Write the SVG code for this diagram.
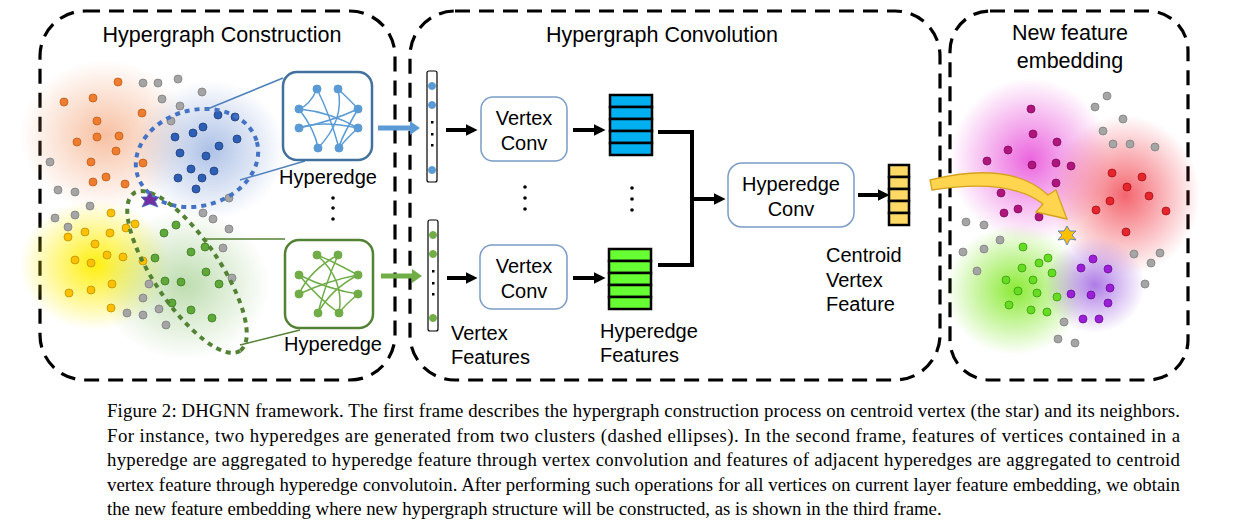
<svg xmlns="http://www.w3.org/2000/svg" width="1240" height="530" viewBox="0 0 1240 530">
<defs>
<style>
.frame{fill:none;stroke:#000;stroke-width:3.2;stroke-dasharray:15 9}
.t{font-family:"Liberation Sans",Arial,sans-serif;fill:#000}
.tt{font-family:"Liberation Sans",Arial,sans-serif;fill:#000;font-size:21.5px}
.cap{font-family:"Liberation Serif","Times New Roman",serif;font-size:18.8px;fill:#000}
.box{fill:#fff;stroke:#7a9cc6;stroke-width:1.5}
.ar{stroke:#000;stroke-width:4;fill:none;marker-end:url(#ah)}
.o{fill:#ed7d31;stroke:#c55a11;stroke-width:.8}
.g{fill:#a5a5a5;stroke:#7f7f7f;stroke-width:.8}
.b{fill:#2e5fb7;stroke:#1f3f7a;stroke-width:.8}
.y{fill:#ffc000;stroke:#c09000;stroke-width:.8}
.gr{fill:#5fa83a;stroke:#3e7a22;stroke-width:.8}
.m{fill:#b0157e;stroke:#800c5c;stroke-width:.8}
.r{fill:#e6262d;stroke:#a80f15;stroke-width:.8}
.lg{fill:#66dd22;stroke:#3a9a10;stroke-width:.8}
.p{fill:#9b1fd6;stroke:#6a0f9a;stroke-width:.8}
.bn{fill:#5b9bd5;stroke:#5b9bd5}
.gn{fill:#70ad47;stroke:#70ad47}
</style>
<marker id="ah" viewBox="0 0 10 10" refX="2" refY="5" markerWidth="3" markerHeight="3" orient="auto"><path d="M0,0L10,5L0,10z" fill="#000"/></marker>
<radialGradient id="go"><stop offset="0" stop-color="#f4a57a" stop-opacity=".7"/><stop offset="1" stop-color="#f4a57a" stop-opacity="0"/></radialGradient>
<radialGradient id="gy"><stop offset="0" stop-color="#ffee00" stop-opacity=".95"/><stop offset="1" stop-color="#ffee00" stop-opacity="0"/></radialGradient>
<radialGradient id="gb"><stop offset="0" stop-color="#8aa7dc" stop-opacity=".7"/><stop offset="1" stop-color="#8aa7dc" stop-opacity="0"/></radialGradient>
<radialGradient id="gg"><stop offset="0" stop-color="#92c67a" stop-opacity=".6"/><stop offset="1" stop-color="#92c67a" stop-opacity="0"/></radialGradient>
<radialGradient id="gm"><stop offset="0" stop-color="#e84ad8" stop-opacity=".85"/><stop offset="1" stop-color="#e84ad8" stop-opacity="0"/></radialGradient>
<radialGradient id="gr"><stop offset="0" stop-color="#f24a55" stop-opacity=".85"/><stop offset="1" stop-color="#f24a55" stop-opacity="0"/></radialGradient>
<radialGradient id="glg"><stop offset="0" stop-color="#7ee81f" stop-opacity=".9"/><stop offset="1" stop-color="#7ee81f" stop-opacity="0"/></radialGradient>
<radialGradient id="gp"><stop offset="0" stop-color="#9a5be0" stop-opacity=".8"/><stop offset="1" stop-color="#9a5be0" stop-opacity="0"/></radialGradient>
</defs>
<rect width="1240" height="530" fill="#fff"/>

<g id="frame1">
<rect class="frame" x="40" y="11" width="355" height="369" rx="45"/>
<text class="tt" x="222" y="42" text-anchor="middle">Hypergraph Construction</text>
<ellipse cx="105" cy="135" rx="85" ry="75" fill="url(#go)"/>
<ellipse cx="95" cy="265" rx="75" ry="65" fill="url(#gy)"/>
<ellipse cx="210" cy="150" rx="75" ry="70" fill="url(#gb)"/>
<ellipse cx="185" cy="285" rx="85" ry="75" fill="url(#gg)"/>
<g>
<circle class="o" cx="118" cy="82" r="4"/><circle class="o" cx="64" cy="102" r="4"/><circle class="o" cx="93" cy="98" r="4"/><circle class="o" cx="142" cy="113" r="4"/><circle class="o" cx="97" cy="121" r="4"/><circle class="o" cx="77" cy="142" r="4"/><circle class="o" cx="97" cy="137" r="4"/><circle class="o" cx="119" cy="136" r="4"/><circle class="o" cx="116" cy="151" r="4"/><circle class="o" cx="91" cy="162" r="4"/><circle class="o" cx="106" cy="177" r="4"/><circle class="o" cx="93" cy="182" r="4"/><circle class="o" cx="125" cy="184" r="4"/><circle class="o" cx="143" cy="163" r="4"/>
<circle class="g" cx="143" cy="83" r="4"/><circle class="g" cx="158" cy="83" r="4"/><circle class="g" cx="178" cy="79" r="4"/><circle class="g" cx="202" cy="92" r="4"/><circle class="g" cx="162" cy="99" r="4"/><circle class="g" cx="180" cy="106" r="4"/><circle class="g" cx="50" cy="162" r="4"/><circle class="g" cx="58" cy="190" r="4"/><circle class="g" cx="75" cy="192" r="4"/><circle class="g" cx="90" cy="206" r="4"/><circle class="g" cx="55" cy="218" r="4"/><circle class="g" cx="75" cy="215" r="4"/><circle class="g" cx="68" cy="227" r="4"/><circle class="g" cx="229" cy="198" r="4"/><circle class="g" cx="203" cy="213" r="4"/><circle class="g" cx="213" cy="219" r="4"/><circle class="g" cx="229" cy="229" r="4"/><circle class="g" cx="223" cy="248" r="4"/><circle class="g" cx="232" cy="278" r="4"/><circle class="g" cx="149" cy="284" r="4"/><circle class="g" cx="143" cy="298" r="4"/><circle class="g" cx="127" cy="313" r="4"/><circle class="g" cx="143" cy="315" r="4"/><circle class="g" cx="159" cy="309" r="4"/><circle class="g" cx="166" cy="325" r="4"/><circle class="g" cx="171" cy="121" r="4"/>
<circle class="b" cx="218" cy="115" r="4"/><circle class="b" cx="235" cy="117" r="4"/><circle class="b" cx="203" cy="127" r="4"/><circle class="b" cx="193" cy="133" r="4"/><circle class="b" cx="175" cy="137" r="4"/><circle class="b" cx="237" cy="139" r="4"/><circle class="b" cx="180" cy="153" r="4"/><circle class="b" cx="206" cy="156" r="4"/><circle class="b" cx="219" cy="146" r="4"/><circle class="b" cx="191" cy="169" r="4"/><circle class="b" cx="214" cy="171" r="4"/><circle class="b" cx="202" cy="178" r="4"/><circle class="b" cx="178" cy="178" r="4"/><circle class="b" cx="196" cy="189" r="4"/>
<circle class="y" cx="111" cy="213" r="4"/><circle class="y" cx="85" cy="232" r="4"/><circle class="y" cx="110" cy="233" r="4"/><circle class="y" cx="135" cy="224" r="4"/><circle class="y" cx="126" cy="228" r="4"/><circle class="y" cx="95" cy="244" r="4"/><circle class="y" cx="68" cy="237" r="4"/><circle class="y" cx="107" cy="255" r="4"/><circle class="y" cx="123" cy="257" r="4"/><circle class="y" cx="75" cy="260" r="4"/><circle class="y" cx="91" cy="263" r="4"/><circle class="y" cx="143" cy="261" r="4"/><circle class="y" cx="112" cy="284" r="4"/><circle class="y" cx="91" cy="290" r="4"/><circle class="y" cx="69" cy="293" r="4"/><circle class="y" cx="111" cy="308" r="4"/>
<circle class="gr" cx="176" cy="225" r="4"/><circle class="gr" cx="164" cy="233" r="4"/><circle class="gr" cx="205" cy="247" r="4"/><circle class="gr" cx="191" cy="252" r="4"/><circle class="gr" cx="155" cy="258" r="4"/><circle class="gr" cx="206" cy="272" r="4"/><circle class="gr" cx="165" cy="281" r="4"/><circle class="gr" cx="181" cy="282" r="4"/><circle class="gr" cx="219" cy="284" r="4"/><circle class="gr" cx="172" cy="303" r="4"/><circle class="gr" cx="191" cy="310" r="4"/><circle class="gr" cx="212" cy="318" r="4"/>
</g>
<ellipse cx="197" cy="158" rx="62" ry="48" transform="rotate(-15 197 158)" fill="none" stroke="#4472c4" stroke-width="4" stroke-dasharray="5 5"/>
<ellipse cx="187" cy="272" rx="95" ry="33" transform="rotate(56 187 272)" fill="none" stroke="#548235" stroke-width="4" stroke-dasharray="5 5"/>
<polygon points="150,191 153,197 159,197 155,201 158,207 150,204 142,207 145,201 141,197 147,197" fill="#7030a0" stroke="#4472c4" stroke-width=".8"/>
</g>

<g id="hyperedge-top">
<line x1="283" y1="78" x2="205" y2="110" stroke="#4f81bd" stroke-width="1.5"/>
<line x1="305" y1="161" x2="240" y2="180" stroke="#4f81bd" stroke-width="1.5"/>
<rect x="283" y="72" width="89" height="88" rx="14" fill="#fff" stroke="#41719c" stroke-width="2.5"/>
<g fill="none" stroke="#5b9bd5" stroke-width="1.5">
<path d="M317,89 Q310,105 299,109"/><path d="M338,89 Q345,120 318,148"/><path d="M317,89 Q330,115 339,148"/><path d="M338,89 Q350,100 358,109"/><path d="M299,109 Q330,112 358,128"/><path d="M299,109 Q315,130 318,148"/><path d="M358,109 Q330,122 299,128"/><path d="M358,109 Q340,140 339,148"/><path d="M299,128 Q320,120 358,128"/><path d="M358,128 Q345,140 339,148"/>
</g>
<g class="bn"><circle cx="317" cy="89" r="4"/><circle cx="338" cy="89" r="4"/><circle cx="299" cy="109" r="4"/><circle cx="358" cy="109" r="4"/><circle cx="299" cy="128" r="4"/><circle cx="358" cy="128" r="4"/><circle cx="318" cy="148" r="4"/><circle cx="339" cy="148" r="4"/></g>
<text class="t" x="328" y="184" font-size="20" text-anchor="middle">Hyperedge</text>
</g>
<g id="vdots1" fill="#000"><circle cx="333" cy="198" r="1.8"/><circle cx="333" cy="208" r="1.8"/><circle cx="333" cy="219" r="1.8"/></g>
<g id="hyperedge-bottom">
<line x1="285" y1="239" x2="205" y2="239" stroke="#548235" stroke-width="1.5"/>
<line x1="300" y1="330" x2="240" y2="345" stroke="#548235" stroke-width="1.5"/>
<rect x="285" y="240" width="88" height="88" rx="14" fill="#fff" stroke="#548235" stroke-width="2.5"/>
<g fill="none" stroke="#70ad47" stroke-width="1.5">
<path d="M317,255 Q330,260 358,275"/><path d="M338,255 Q325,285 318,313"/><path d="M317,255 Q345,280 339,313"/><path d="M338,255 Q310,270 299,294"/><path d="M299,275 Q330,290 358,294"/><path d="M299,275 Q320,300 339,313"/><path d="M358,275 Q330,290 318,313"/><path d="M299,294 Q330,280 358,275"/><path d="M358,294 Q345,305 339,313"/>
</g>
<g class="gn"><circle cx="317" cy="255" r="4"/><circle cx="338" cy="255" r="4"/><circle cx="299" cy="275" r="4"/><circle cx="358" cy="275" r="4"/><circle cx="299" cy="294" r="4"/><circle cx="358" cy="294" r="4"/><circle cx="318" cy="313" r="4"/><circle cx="339" cy="313" r="4"/></g>
<text class="t" x="333" y="351" font-size="20" text-anchor="middle">Hyperedge</text>
</g>

<g id="frame2">
<rect class="frame" x="410" y="11" width="530" height="369" rx="45"/>
<text class="tt" x="662" y="42" text-anchor="middle">Hypergraph Convolution</text>
</g>
<g id="vec-top">
<rect x="427" y="71" width="10" height="111" rx="2" fill="#fff" stroke="#000" stroke-width="1.2"/>
<circle class="bn" cx="432" cy="86" r="3.5"/><circle class="bn" cx="432" cy="105" r="3.5"/><circle class="bn" cx="432" cy="170" r="3.5"/>
<rect x="431" y="121" width="2.5" height="2.5"/><rect x="431" y="133" width="2.5" height="2.5"/><rect x="431" y="144" width="2.5" height="2.5"/>
</g>
<g id="vec-bottom">
<rect x="428" y="220" width="10" height="111" rx="2" fill="#fff" stroke="#000" stroke-width="1.2"/>
<circle class="gn" cx="433" cy="235" r="3.5"/><circle class="gn" cx="433" cy="254" r="3.5"/><circle class="gn" cx="433" cy="318" r="3.5"/>
<rect x="432" y="270" width="2.5" height="2.5"/><rect x="432" y="282" width="2.5" height="2.5"/><rect x="432" y="293" width="2.5" height="2.5"/>
</g>
<g id="vconv-top"><rect class="box" x="481" y="97" width="86" height="64" rx="12"/><text class="t" x="524" y="125" font-size="20" text-anchor="middle">Vertex</text><text class="t" x="524" y="150" font-size="20" text-anchor="middle">Conv</text></g>
<g id="vconv-bottom"><rect class="box" x="480" y="245" width="87" height="64" rx="12"/><text class="t" x="524" y="273" font-size="20" text-anchor="middle">Vertex</text><text class="t" x="524" y="298" font-size="20" text-anchor="middle">Conv</text></g>
<g id="hfeat-top" stroke="#000" stroke-width="2.5" fill="#00b0f0">
<rect x="610" y="95" width="42" height="12"/><rect x="610" y="107" width="42" height="12"/><rect x="610" y="119" width="42" height="12"/><rect x="610" y="131" width="42" height="12"/><rect x="610" y="143" width="42" height="12"/>
</g>
<g id="hfeat-bottom" stroke="#000" stroke-width="2.5" fill="#66ff33">
<rect x="609" y="249" width="42" height="12"/><rect x="609" y="261" width="42" height="12"/><rect x="609" y="273" width="42" height="12"/><rect x="609" y="285" width="42" height="12"/><rect x="609" y="297" width="42" height="12"/>
</g>
<g id="vdots2" fill="#000"><circle cx="525" cy="187" r="1.8"/><circle cx="525" cy="198" r="1.8"/><circle cx="525" cy="209" r="1.8"/><circle cx="632" cy="188" r="1.8"/><circle cx="632" cy="199" r="1.8"/><circle cx="632" cy="210" r="1.8"/></g>
<g id="hconv"><rect class="box" x="728" y="163" width="126" height="64" rx="14"/><text class="t" x="791" y="191" font-size="20" text-anchor="middle">Hyperedge</text><text class="t" x="791" y="216" font-size="20" text-anchor="middle">Conv</text></g>
<g id="centroid" stroke="#000" stroke-width="2.5" fill="#ffd966">
<rect x="889" y="165" width="20" height="12"/><rect x="889" y="177" width="20" height="12"/><rect x="889" y="189" width="20" height="12"/><rect x="889" y="201" width="20" height="12"/><rect x="889" y="213" width="20" height="12"/>
</g>
<g id="labels2" class="t" font-size="20">
<text x="451" y="340">Vertex</text><text x="451" y="364">Features</text>
<text x="600" y="338">Hyperedge</text><text x="600" y="362">Features</text>
<text x="826" y="262">Centroid</text><text x="826" y="287">Vertex</text><text x="826" y="311">Feature</text>
</g>

<g id="frame3">
<rect class="frame" x="950" y="11" width="238" height="369" rx="40"/>
<text class="tt" x="1070" y="40" text-anchor="middle">New feature</text>
<text class="tt" x="1070" y="68" text-anchor="middle">embedding</text>
<ellipse cx="1030" cy="160" rx="80" ry="82" fill="url(#gm)"/>
<ellipse cx="1125" cy="195" rx="75" ry="80" fill="url(#gr)"/>
<ellipse cx="1015" cy="290" rx="70" ry="65" fill="url(#glg)"/>
<ellipse cx="1095" cy="285" rx="50" ry="48" fill="url(#gp)"/>
<circle class="m" cx="1031" cy="109" r="4"/><circle class="m" cx="1033" cy="134" r="4"/><circle class="m" cx="1057" cy="142" r="4"/><circle class="m" cx="1008" cy="150" r="4"/><circle class="m" cx="987" cy="161" r="4"/><circle class="m" cx="1032" cy="165" r="4"/><circle class="m" cx="1056" cy="163" r="4"/><circle class="m" cx="1071" cy="166" r="4"/><circle class="m" cx="1056" cy="183" r="4"/><circle class="m" cx="1001" cy="193" r="4"/><circle class="m" cx="1018" cy="209" r="4"/><circle class="m" cx="1004" cy="213" r="4"/><circle class="m" cx="1039" cy="217" r="4"/>
<circle class="g" cx="1107" cy="96" r="4"/><circle class="g" cx="1095" cy="107" r="4"/><circle class="g" cx="1123" cy="119" r="4"/><circle class="g" cx="1103" cy="131" r="4"/><circle class="g" cx="1113" cy="144" r="4"/><circle class="g" cx="1130" cy="144" r="4"/><circle class="g" cx="1155" cy="147" r="4"/><circle class="g" cx="966" cy="222" r="4"/><circle class="g" cx="984" cy="225" r="4"/><circle class="g" cx="1000" cy="240" r="4"/><circle class="g" cx="963" cy="252" r="4"/><circle class="g" cx="984" cy="249" r="4"/><circle class="g" cx="977" cy="271" r="4"/><circle class="g" cx="1134" cy="254" r="4"/><circle class="g" cx="1160" cy="253" r="4"/><circle class="g" cx="1151" cy="263" r="4"/><circle class="g" cx="1145" cy="284" r="4"/><circle class="g" cx="1064" cy="322" r="4"/><circle class="g" cx="1058" cy="339" r="4"/><circle class="g" cx="1075" cy="343" r="4"/>
<circle class="r" cx="1112" cy="173" r="4"/><circle class="r" cx="1142" cy="177" r="4"/><circle class="r" cx="1127" cy="187" r="4"/><circle class="r" cx="1149" cy="196" r="4"/><circle class="r" cx="1110" cy="201" r="4"/><circle class="r" cx="1096" cy="210" r="4"/><circle class="r" cx="1166" cy="211" r="4"/><circle class="r" cx="1126" cy="232" r="4"/>
<circle class="lg" cx="1023" cy="247" r="4"/><circle class="lg" cx="1048" cy="258" r="4"/><circle class="lg" cx="1039" cy="263" r="4"/><circle class="lg" cx="1022" cy="268" r="4"/><circle class="lg" cx="1052" cy="273" r="4"/><circle class="lg" cx="1006" cy="280" r="4"/><circle class="lg" cx="1033" cy="280" r="4"/><circle class="lg" cx="1018" cy="291" r="4"/><circle class="lg" cx="1037" cy="293" r="4"/><circle class="lg" cx="1057" cy="297" r="4"/><circle class="lg" cx="1009" cy="305" r="4"/><circle class="lg" cx="1031" cy="310" r="4"/><circle class="lg" cx="1047" cy="312" r="4"/>
<circle class="p" cx="1093" cy="259" r="4"/><circle class="p" cx="1081" cy="268" r="4"/><circle class="p" cx="1108" cy="269" r="4"/><circle class="p" cx="1110" cy="288" r="4"/><circle class="p" cx="1071" cy="294" r="4"/><circle class="p" cx="1091" cy="295" r="4"/><circle class="p" cx="1108" cy="303" r="4"/><circle class="p" cx="1083" cy="319" r="4"/><circle class="p" cx="1099" cy="319" r="4"/>
<polygon points="1067,226 1070,231 1076,231 1072,235 1076,240 1070,239 1067,245 1064,239 1058,240 1062,235 1058,231 1064,231" fill="#ffc000" stroke="#4472c4" stroke-width=".8"/>
</g>

<g id="connectors">
<path d="M378,128 H411" stroke="#5b9bd5" stroke-width="5" fill="none"/><path d="M410,121 L420,128 L410,135 z" fill="#5b9bd5"/>
<path d="M381,276 H413" stroke="#70ad47" stroke-width="5" fill="none"/><path d="M412,269 L422,276 L412,283 z" fill="#70ad47"/>
<path class="ar" d="M446,130 H468"/><path class="ar" d="M447,278 H468"/>
<path class="ar" d="M573,130 H596"/><path class="ar" d="M573,278 H596"/>
<path d="M658,132 H692 V265 H658" stroke="#000" stroke-width="4" fill="none"/>
<path class="ar" d="M692,199 H716"/>
<path class="ar" d="M858,195 H880"/>
<path d="M930,180 Q1010,160 1048,195 L1056,190 L1067,219 L1036,212 L1043,204 Q1010,178 932,190 z" fill="#ffd54f" stroke="#d6a21e" stroke-width="1.3"/>
</g>

<g id="caption" class="cap">
<text x="107" y="417" textLength="1073" lengthAdjust="spacing">Figure 2: DHGNN framework. The first frame describes the hypergraph construction process on centroid vertex (the star) and its neighbors.</text>
<text x="107" y="442" textLength="1073" lengthAdjust="spacing">For instance, two hyperedges are generated from two clusters (dashed ellipses).  In the second frame, features of vertices contained in a</text>
<text x="107" y="466" textLength="1073" lengthAdjust="spacing">hyperedge are aggregated to hyperedge feature through vertex convolution and features of adjacent hyperedges are aggregated to centroid</text>
<text x="107" y="491" textLength="1073" lengthAdjust="spacing">vertex feature through hyperedge convolutoin. After performing such operations for all vertices on current layer feature embedding, we obtain</text>
<text x="107" y="515">the new feature embedding where new hypergraph structure will be constructed, as is shown in the third frame.</text>
</g>
</svg>
